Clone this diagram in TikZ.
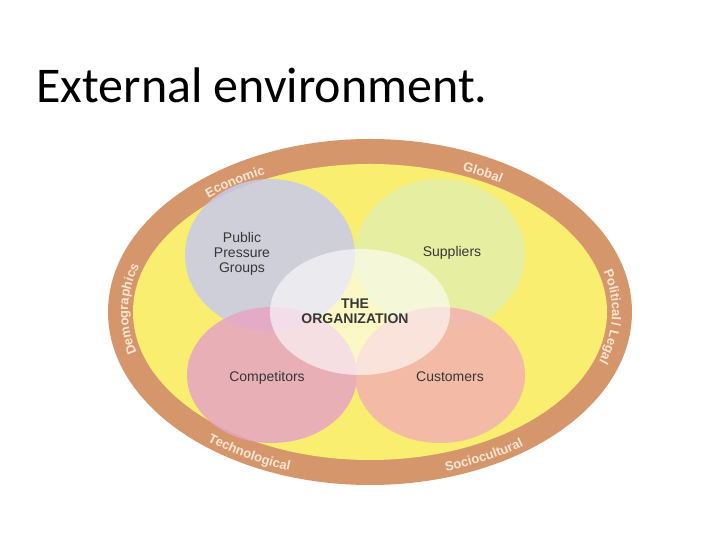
\documentclass[tikz,border=0pt]{standalone}
\usepackage{fontspec}
\setmainfont{Liberation Sans}
\newfontfamily\titlefont{Carlito}
\usetikzlibrary{decorations.text,calc}
\definecolor{ringc}{RGB}{214,150,108}
\definecolor{yel}{RGB}{249,238,112}
\definecolor{ringtxt}{RGB}{250,230,210}
\definecolor{bluec}{RGB}{200,202,236}
\definecolor{greenc}{RGB}{226,238,170}
\definecolor{pinkc}{RGB}{230,165,196}
\definecolor{rosec}{RGB}{242,178,175}
\definecolor{txt}{RGB}{55,55,55}
\tikzset{
  ringlabel/.style={decoration={text along path,text align=center,
    text={|\bfseries\fontsize{13}{13}\selectfont\color{ringtxt}|#1}},decorate},
  petal/.style={fill=#1,fill opacity=0.85,draw=none},
  lbl/.style={text=txt,font=\fontsize{14}{15}\selectfont,align=center}
}
\begin{document}
\begin{tikzpicture}[x=1pt,y=1pt]
\useasboundingbox (0,0) rectangle (720,540);
\fill[white] (0,0) rectangle (720,540);
\node[anchor=base west,inner sep=0,font=\titlefont\fontsize{50}{50}\selectfont] (title) at (36,437) {External environment.};
\coordinate (c) at (370,228);
\fill[ringc] (c) ellipse[x radius=262,y radius=173];
\fill[yel] (c) ellipse[x radius=237,y radius=148];
\fill[petal=bluec] (270,285) ellipse[x radius=85,y radius=76];
\fill[petal=greenc] (440,285) ellipse[x radius=85,y radius=76];
\fill[petal=pinkc] (272,165) ellipse[x radius=85,y radius=68];
\fill[petal=rosec] (440,165) ellipse[x radius=85,y radius=68];
\fill[white,fill opacity=0.6] (360,228) ellipse[x radius=90,y radius=63];
\node[lbl] (pub) at (242,286) {Public\\Pressure\\Groups};
\node[lbl] (sup) at (452,287) {Suppliers};
\node[lbl,font=\bfseries\fontsize{14}{15}\selectfont] (org) at (355,229) {THE\\ORGANIZATION};
\node[lbl] (com) at (267,162) {Competitors};
\node[lbl] (cus) at (450,163) {Customers};
% ring labels
\path[ringlabel=Economic] ($(c)+(147:242 and 153)$) arc[start angle=147,end angle=103,x radius=242,y radius=153];
\path[ringlabel=Global] ($(c)+(76:242 and 153)$) arc[start angle=76,end angle=48,x radius=242,y radius=153];
\path[ringlabel=Political] ($(c)+(17:242 and 153)$) arc[start angle=17,end angle=-5,x radius=242,y radius=153];
\node[inner sep=0,rotate=-92,text=ringtxt,font=\bfseries\fontsize{13}{13}\selectfont] (sl) at ($(c)+(-4.6:247 and 158)$) {/};
\path[ringlabel=Legal] ($(c)+(-5.8:242 and 153)$) arc[start angle=-5.8,end angle=-19.8,x radius=242,y radius=153];
\path[ringlabel=Demographics] ($(c)+(203:242 and 153)$) arc[start angle=203,end angle=155,x radius=242,y radius=153];
\path[ringlabel=Technological] ($(c)+(216:256 and 167)$) arc[start angle=216,end angle=264,x radius=256,y radius=167];
\path[ringlabel=Sociocultural] ($(c)+(276:256 and 167)$) arc[start angle=276,end angle=320,x radius=256,y radius=167];
\end{tikzpicture}
\end{document}
